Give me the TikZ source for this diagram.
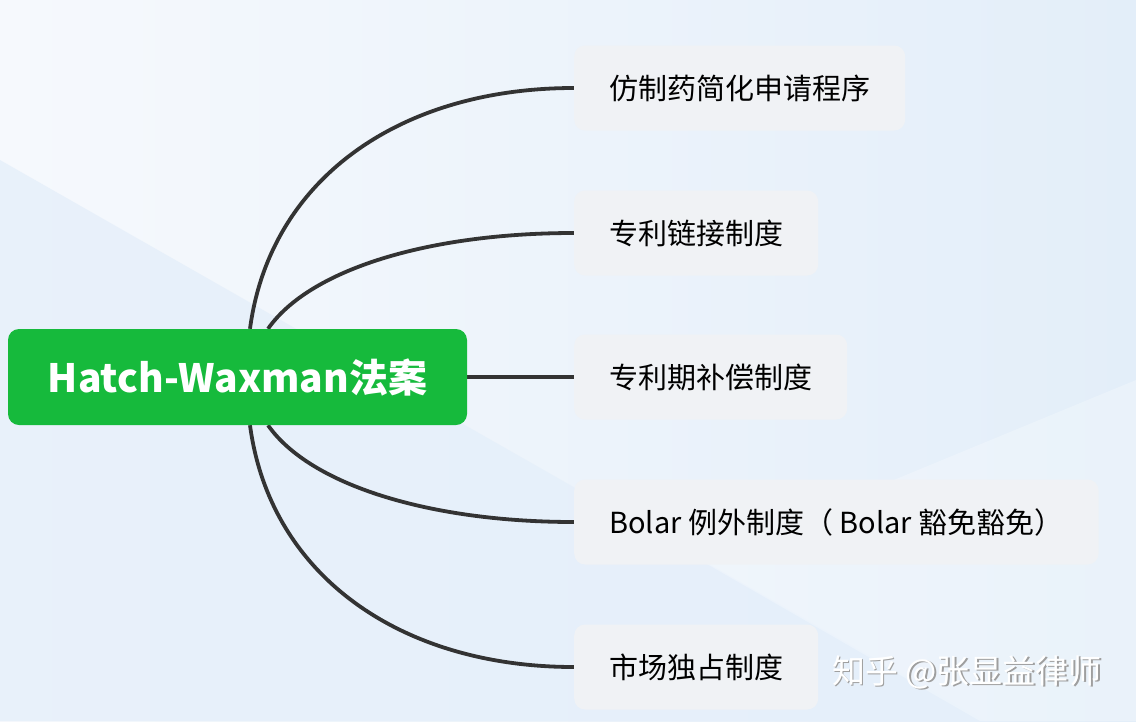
\documentclass[tikz,border=0pt]{standalone}
\usepackage{fontspec}
\setmainfont{Noto Sans CJK SC}
\newfontfamily\wmfont{Noto Sans CJK SC}
\definecolor{rootgreen}{HTML}{16BA3C}
\definecolor{boxgray}{HTML}{F0F2F5}
\definecolor{linegray}{HTML}{333333}
\definecolor{bgA}{HTML}{F6F9FD}
\definecolor{bgB}{HTML}{E3EEF9}
\definecolor{bgC}{HTML}{E5EFFA}
\pgfdeclarelayer{bglayer}
\pgfdeclarelayer{linelayer}
\pgfsetlayers{bglayer,linelayer,main}
\tikzset{
  rootbox/.style={rectangle, rounded corners=11pt, fill=rootgreen, text=white,
    font=\fontsize{39}{43}\selectfont\bfseries, minimum width=459pt, minimum height=96pt, inner sep=0pt},
  leafbox/.style={rectangle, rounded corners=11pt, fill=boxgray, text=black,
    font=\fontsize{29}{33}\selectfont, minimum height=85pt, inner xsep=35pt, inner ysep=0pt, anchor=west},
  conn/.style={draw=linegray, line width=3.8pt},
  wm/.style={font=\wmfont\fontsize{33}{37}\selectfont, anchor=west, inner sep=0pt}
}
\begin{document}
\begin{tikzpicture}[x=1pt,y=-1pt]
\useasboundingbox (0,0) rectangle (1136,721);
\begin{pgfonlayer}{bglayer}
  \shade[left color=bgA, right color=bgB] (0,0) rectangle (1136,721);
  \fill[bgC, opacity=0.8] (0,160) -- (984,721) -- (0,721) -- cycle;
  \fill[white, opacity=0.25] (700,560) -- (1136,380) -- (1136,721) -- (980,721) -- cycle;
\end{pgfonlayer}

\node[rootbox] (root) at (237.5,377) {Hatch-Waxman法案};

\node[leafbox] (b1) at (574,88) {仿制药简化申请程序};
\node[leafbox] (b2) at (574,233) {专利链接制度};
\node[leafbox] (b3) at (574,377) {专利期补偿制度};
\node[leafbox] (b4) at (574,522) {Bolar 例外制度（ Bolar 豁免豁免）};
\node[leafbox] (b5) at (574,667) {市场独占制度};

\coordinate (r1) at ([xshift=12.5pt]root.north);
\coordinate (r2) at ([xshift=30.5pt]root.north);
\coordinate (r4) at ([xshift=30.5pt]root.south);
\coordinate (r5) at ([xshift=12.5pt]root.south);

\begin{pgfonlayer}{linelayer}
  \draw[conn] (r1) .. controls +(20,-150) and +(-174,0) .. (b1.west);
  \draw[conn] (r2) .. controls +(42,-60) and +(-144,0) .. (b2.west);
  \draw[conn] (root.east) -- (b3.west);
  \draw[conn] (r4) .. controls +(42,60) and +(-144,0) .. (b4.west);
  \draw[conn] (r5) .. controls +(20,150) and +(-174,0) .. (b5.west);
\end{pgfonlayer}

\node[wm, text=gray!75] (wmS) at (833.5,673.5) {知乎 @张显益律师};
\node[wm, text=white] (wm) at (832,672) {知乎 @张显益律师};
\end{tikzpicture}
\end{document}
